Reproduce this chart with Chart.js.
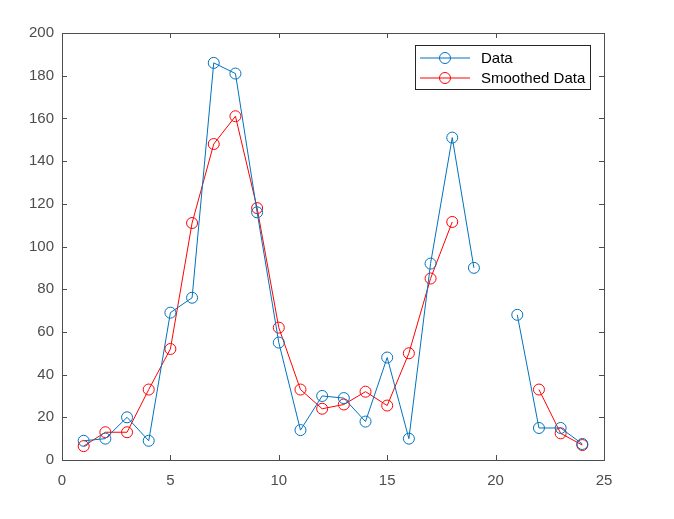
<!DOCTYPE html>
<html>
<head>
<meta charset="utf-8">
<script src="https://cdn.jsdelivr.net/npm/chart.js@4/dist/chart.umd.min.js"></script>
<style>
  html, body { margin: 0; padding: 0; background: #fff; }
  #wrap { width: 674px; height: 519px; position: relative; }
</style>
</head>
<body>
<div id="wrap"><canvas id="chart"></canvas></div>
<script>
// sample positions and values
var xs = [1, 2, 3, 4, 5, 6, 7, 8, 9, 10, 11, 12, 13, 14, 15, 16, 17, 18, 19, 20, 21, 22, 23, 24];
var rawData = [9, 10, 20, 9, 69, 76, 186, 181, 116, 55, 14, 30, 29, 18, 48, 10, 92, 151, 90, null, 68, 15, 15, 7.5];
var smoothed = [6.5, 13, 13, 33, 52, 111, 148, 161, 118, 62, 33, 24, 26, 32, 25.5, 50, 85, 111.5, null, null, null, 33, 12.5, 7];
var seriesNames = ['Data', 'Smoothed Data'];
var seriesColors = ['#0072BD', '#FF0000'];

var axisColor = '#4d4d4d';
var fontFam = '"Liberation Sans", Arial, sans-serif';

function toPoints(vals) {
  return xs.map(function (x, i) { return { x: x, y: vals[i] }; });
}

// MATLAB-like box with inward ticks plus the legend
var boxPlugin = {
  id: 'box',
  afterDraw: function (chart) {
    var c = chart.ctx, a = chart.chartArea;
    var sx = chart.scales.x, sy = chart.scales.y;
    c.save();
    c.strokeStyle = axisColor;
    c.lineWidth = 1;
    c.strokeRect(Math.round(a.left) + 0.5, Math.round(a.top) + 0.5,
      Math.round(a.right - a.left), Math.round(a.bottom - a.top));
    c.beginPath();
    sx.ticks.forEach(function (t) {
      var px = Math.round(sx.getPixelForValue(t.value)) + 0.5;
      c.moveTo(px, a.bottom); c.lineTo(px, a.bottom - 5);
      c.moveTo(px, a.top); c.lineTo(px, a.top + 5);
    });
    sy.ticks.forEach(function (t) {
      var py = Math.round(sy.getPixelForValue(t.value)) + 0.5;
      c.moveTo(a.left, py); c.lineTo(a.left + 5, py);
      c.moveTo(a.right, py); c.lineTo(a.right - 5, py);
    });
    c.stroke();

    // legend
    var lx = 415.5, ly = 45.5, lw = 175, lh = 44;
    c.fillStyle = '#fff';
    c.fillRect(lx, ly, lw, lh);
    c.strokeStyle = '#262626';
    c.strokeRect(lx, ly, lw, lh);
    c.font = '15px ' + fontFam;
    c.textBaseline = 'middle';
    seriesNames.forEach(function (name, i) {
      var yy = 58 + i * 20;
      c.strokeStyle = seriesColors[i];
      c.beginPath();
      c.moveTo(420, yy); c.lineTo(470, yy);
      c.stroke();
      c.beginPath();
      c.arc(445, yy, 5.5, 0, Math.PI * 2);
      c.stroke();
      c.fillStyle = '#000';
      c.fillText(name, 481, yy + 1);
    });
    c.restore();
  }
};

var ctx = document.getElementById('chart');
new Chart(ctx, {
  type: 'line',
  data: {
    datasets: [
      {
        label: seriesNames[0],
        data: toPoints(rawData),
        borderColor: seriesColors[0],
        borderWidth: 1,
        pointRadius: 5.5,
        pointBorderWidth: 1,
        pointBackgroundColor: 'rgba(0,0,0,0)',
        pointBorderColor: seriesColors[0],
        spanGaps: false,
        tension: 0
      },
      {
        label: seriesNames[1],
        data: toPoints(smoothed),
        borderColor: seriesColors[1],
        borderWidth: 1,
        pointRadius: 5.5,
        pointBorderWidth: 1,
        pointBackgroundColor: 'rgba(0,0,0,0)',
        pointBorderColor: seriesColors[1],
        spanGaps: false,
        tension: 0
      }
    ]
  },
  options: {
    responsive: true,
    maintainAspectRatio: false,
    animation: false,
    layout: { padding: { left: 0, top: 33, right: 70, bottom: 0 } },
    plugins: { legend: { display: false }, tooltip: { enabled: false } },
    scales: {
      x: {
        type: 'linear',
        min: 0, max: 25,
        grid: { display: false, drawTicks: false },
        border: { display: false },
        ticks: { stepSize: 5, padding: 12, color: axisColor, font: { family: fontFam, size: 15 } },
        afterFit: function (s) { s.height = 59; }
      },
      y: {
        min: 0, max: 200,
        grid: { display: false, drawTicks: false },
        border: { display: false },
        ticks: { stepSize: 20, padding: 8, color: axisColor, font: { family: fontFam, size: 15 } },
        afterFit: function (s) { s.width = 62; }
      }
    }
  },
  plugins: [boxPlugin]
});
</script>
</body>
</html>
